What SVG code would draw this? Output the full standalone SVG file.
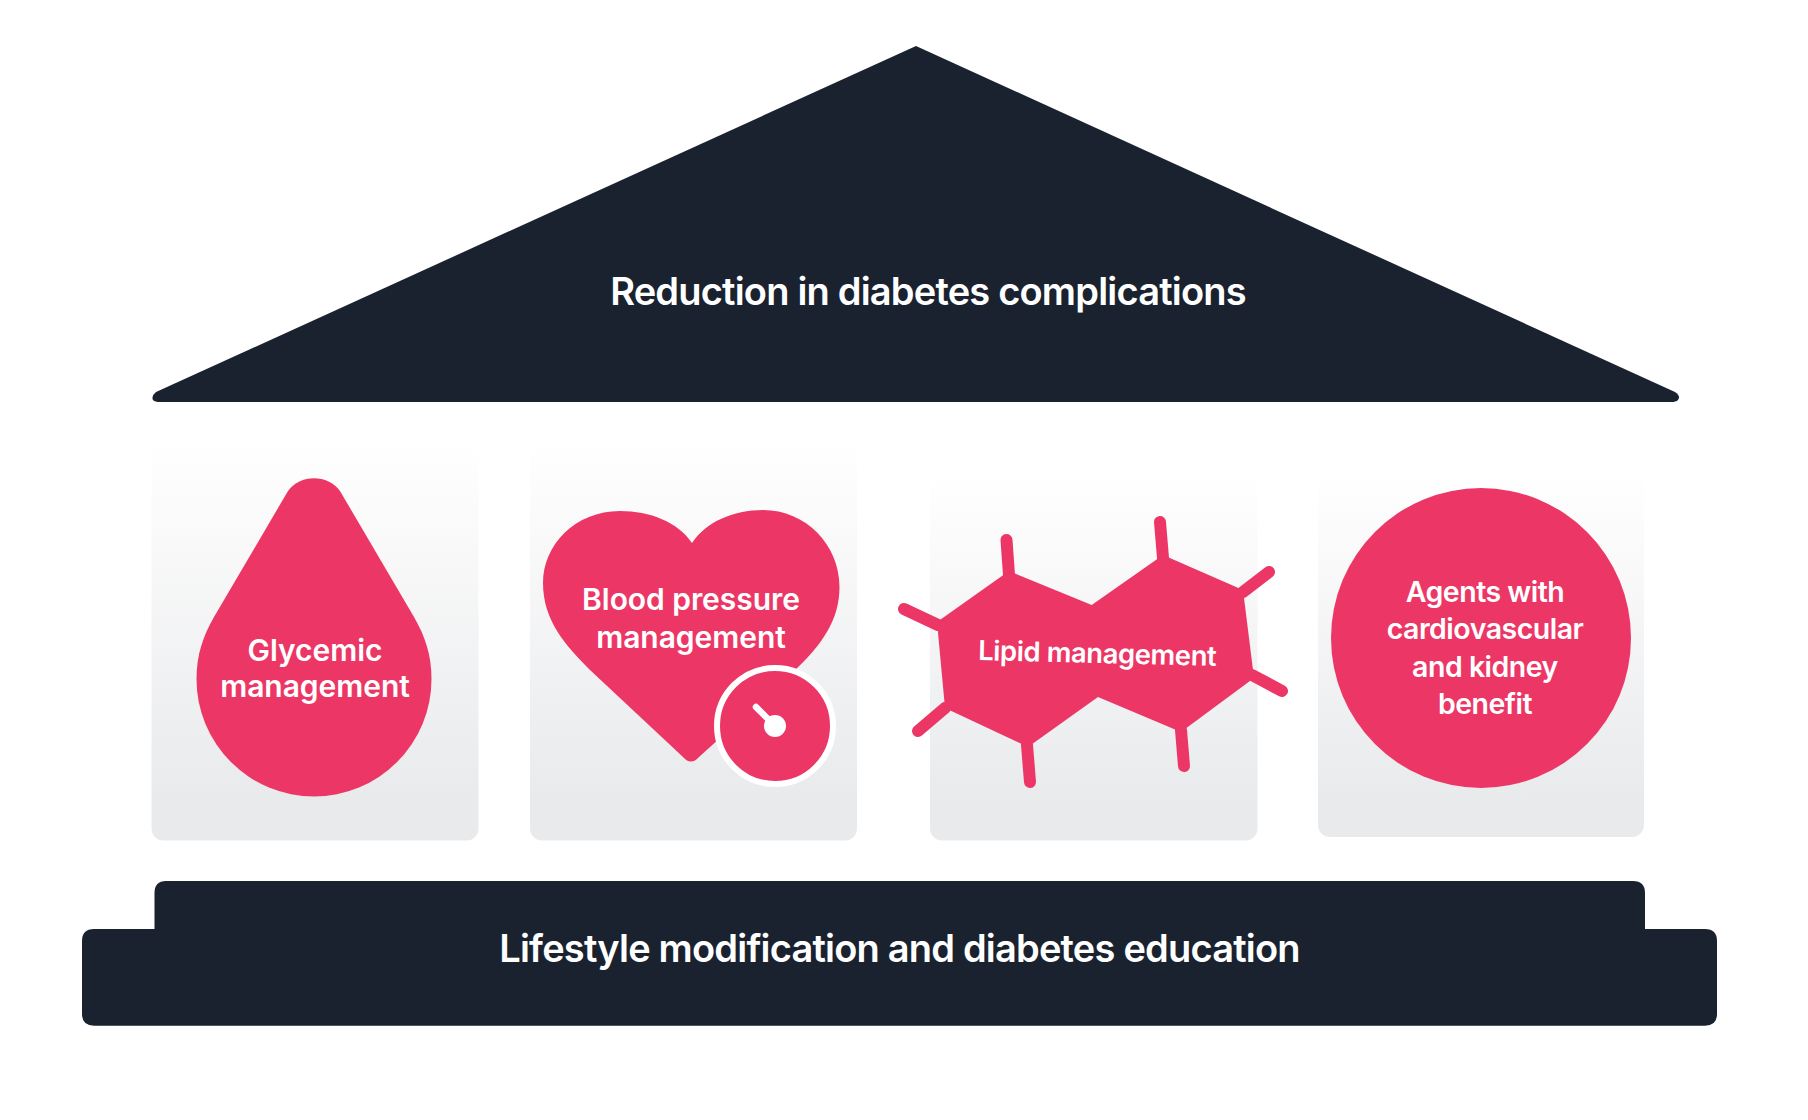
<svg xmlns="http://www.w3.org/2000/svg" width="1808" height="1120" viewBox="0 0 1808 1120">
<style>
.d{fill:#1A2230}.p{fill:#EC3766}.s{stroke:#EC3766;stroke-width:12;stroke-linecap:round;fill:none}
.c{fill:url(#g)}
text{font-family:"Inter","Liberation Sans",sans-serif;font-weight:600;fill:#fff;text-anchor:middle}
.l{font-size:38px;letter-spacing:-0.8px}.m{font-size:30px;letter-spacing:-0.05px}.a{font-size:28.500px;letter-spacing:-0.5px}.b{font-size:27.500px;letter-spacing:-0.45px}
</style>
<defs><linearGradient id="g" x1="0" y1="0" x2="0" y2="1"><stop offset="0" stop-color="#fff"/><stop offset="0.9" stop-color="#E9EAEC"/><stop offset="1" stop-color="#E9EAEC"/></linearGradient></defs>
<rect width="1808" height="1120" fill="#fff"/>
<g id="roof"><path class="d" d="M916,46 L1675,392 Q1681,396 1678,400 Q1676,402 1671,402 L160,402 Q155,402 153,400 Q151,396 156,392 Z"/><text class="l" x="928" y="305">Reduction in diabetes complications</text></g>
<g id="glycemic"><rect class="c" x="151.500" y="440" width="327" height="400.500" rx="12"/>
<path class="p" d="M214,617 L288,491 C300,474 328,474 340,491 L414,617 C425,636 431.500,655 431.500,679 A117.500,117.500 0 0 1 196.500,679 C196.500,655 203,636 214,617 Z"/>
<text class="m" x="315" y="660.500">Glycemic</text><text class="m" x="315" y="697">management</text></g>
<g id="blood-pressure"><rect class="c" x="530" y="440" width="327" height="400.500" rx="12"/>
<path class="p" d="M692,543 C706,522 733,510 763,510 C806,510 839.500,545 839.500,587 C839.500,620 822,645 793,672 L699,757 Q691,766 683,757 L590,670 C565,645 543,620 543,583 C543,545 575,511 620,511 C650,511 678,522 692,543 Z"/>
<text class="m" x="691" y="610">Blood pressure</text><text class="m" x="691" y="647.500">management</text>
<circle class="p" cx="775" cy="726" r="58" stroke="#fff" stroke-width="6"/>
<line x1="756" y1="707" x2="775" y2="726" stroke="#fff" stroke-width="6.500" stroke-linecap="round"/><circle cx="775" cy="726" r="11" fill="#fff"/></g>
<g id="lipid"><rect class="c" x="930" y="475" width="327.500" height="365.500" rx="12"/>
<path class="p" d="M1009,571 L1091.700,605 L1163,555 L1243,590 L1254,678 L1181,732 L1098,697 L1028,747 L945,708 L937,622 Z"/>
<path class="s" d="M1006.500,540 L1009,575 M1160,522 L1163,558 M1269,572 L1243,592 M1282,691 L1252,675 M1184,766 L1181,730 M1030,782 L1027,745 M918,731 L945,708 M904,609 L938,625"/>
<text class="b" x="1097" y="663" transform="rotate(1.400 1097 663)">Lipid management</text></g>
<g id="agents"><rect class="c" x="1318" y="472" width="326" height="365" rx="12"/>
<circle class="p" cx="1481" cy="638" r="150"/>
<text class="a" x="1485" y="602">Agents with</text><text class="a" x="1485" y="639">cardiovascular</text><text class="a" x="1485" y="676.500">and kidney</text><text class="a" x="1485" y="713.500">benefit</text></g>
<g id="foundation"><path class="d" d="M166,881 L1633,881 Q1645,881 1645,893 L1645,929 L1705,929 Q1717,929 1717,941 L1717,1014 Q1717,1025.700 1705,1025.700 L94,1025.700 Q82,1025.700 82,1014 L82,941 Q82,929 94,929 L154.500,929 L154.500,893 Q154.500,881 166,881 Z"/>
<text class="l" x="899.500" y="962">Lifestyle modification and diabetes education</text></g>
<g id="connectors"/>
</svg>
